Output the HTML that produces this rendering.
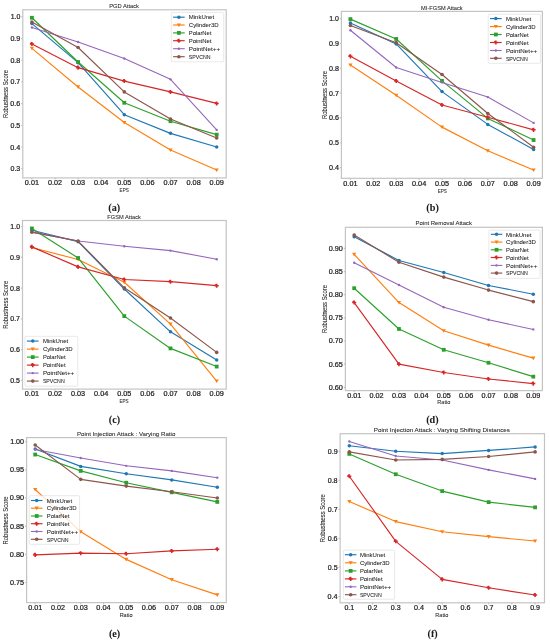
<!DOCTYPE html>
<html><head><meta charset="utf-8"><title>Robustness charts</title>
<style>html,body{margin:0;padding:0;background:#fff;width:550px;height:641px;overflow:hidden}svg{display:block;will-change:transform}</style>
</head><body>
<svg width="550" height="641" viewBox="0 0 550 641" font-family="'Liberation Sans', sans-serif">
<defs><clipPath id="clipa"><rect x="22.8" y="9.8" width="203.4" height="168.1"/></clipPath>
<clipPath id="clipb"><rect x="341.4" y="11.4" width="201" height="166.9"/></clipPath>
<clipPath id="clipc"><rect x="22.5" y="220.5" width="203.7" height="168.6"/></clipPath>
<clipPath id="clipd"><rect x="345.4" y="227.3" width="197" height="163.3"/></clipPath>
<clipPath id="clipe"><rect x="26.6" y="437.6" width="199.7" height="165"/></clipPath>
<clipPath id="clipf"><rect x="340.1" y="433.7" width="204.4" height="169.1"/></clipPath></defs>
<rect width="550" height="641" fill="#fff"/>
<g clip-path="url(#clipa)">
<polyline points="31.9,23.62 78.1,62.66 124.3,114.7 170.5,133.35 216.7,147.01" fill="none" stroke="#1f77b4" stroke-width="1.15" stroke-linejoin="round"/>
<circle cx="31.9" cy="23.62" r="1.75" fill="#1f77b4"/>
<circle cx="78.1" cy="62.66" r="1.75" fill="#1f77b4"/>
<circle cx="124.3" cy="114.7" r="1.75" fill="#1f77b4"/>
<circle cx="170.5" cy="133.35" r="1.75" fill="#1f77b4"/>
<circle cx="216.7" cy="147.01" r="1.75" fill="#1f77b4"/>
<polyline points="31.9,48.34 78.1,86.94 124.3,122.51 170.5,150.05 216.7,170" fill="none" stroke="#ff7f0e" stroke-width="1.15" stroke-linejoin="round"/>
<polygon points="29.8,46.77 34,46.77 31.9,50.34" fill="#ff7f0e"/>
<polygon points="76,85.37 80.2,85.37 78.1,88.94" fill="#ff7f0e"/>
<polygon points="122.2,120.93 126.4,120.93 124.3,124.5" fill="#ff7f0e"/>
<polygon points="168.4,148.48 172.6,148.48 170.5,152.05" fill="#ff7f0e"/>
<polygon points="214.6,168.43 218.8,168.43 216.7,172" fill="#ff7f0e"/>
<polyline points="31.9,17.77 78.1,62.01 124.3,102.78 170.5,121.21 216.7,134.65" fill="none" stroke="#2ca02c" stroke-width="1.15" stroke-linejoin="round"/>
<rect x="30.01" y="15.88" width="3.78" height="3.78" fill="#2ca02c"/>
<rect x="76.21" y="60.12" width="3.78" height="3.78" fill="#2ca02c"/>
<rect x="122.41" y="100.89" width="3.78" height="3.78" fill="#2ca02c"/>
<rect x="168.61" y="119.32" width="3.78" height="3.78" fill="#2ca02c"/>
<rect x="214.81" y="132.76" width="3.78" height="3.78" fill="#2ca02c"/>
<polyline points="31.9,44.01 78.1,67.64 124.3,81.09 170.5,91.93 216.7,103.43" fill="none" stroke="#d62728" stroke-width="1.15" stroke-linejoin="round"/>
<path d="M31.13 41.98h1.54v1.26h1.26v1.54h-1.26v1.26h-1.54v-1.26h-1.26v-1.54z" fill="#d62728"/>
<path d="M77.33 65.61h1.54v1.26h1.26v1.54h-1.26v1.26h-1.54v-1.26h-1.26v-1.54z" fill="#d62728"/>
<path d="M123.53 79.06h1.54v1.26h1.26v1.54h-1.26v1.26h-1.54v-1.26h-1.26v-1.54z" fill="#d62728"/>
<path d="M169.73 89.9h1.54v1.26h1.26v1.54h-1.26v1.26h-1.54v-1.26h-1.26v-1.54z" fill="#d62728"/>
<path d="M215.93 101.4h1.54v1.26h1.26v1.54h-1.26v1.26h-1.54v-1.26h-1.26v-1.54z" fill="#d62728"/>
<polyline points="31.9,27.53 78.1,42.06 124.3,58.54 170.5,79.35 216.7,129.88" fill="none" stroke="#9467bd" stroke-width="1.09" stroke-linejoin="round"/>
<circle cx="31.9" cy="27.53" r="1.19" fill="#9467bd"/>
<circle cx="78.1" cy="42.06" r="1.19" fill="#9467bd"/>
<circle cx="124.3" cy="58.54" r="1.19" fill="#9467bd"/>
<circle cx="170.5" cy="79.35" r="1.19" fill="#9467bd"/>
<circle cx="216.7" cy="129.88" r="1.19" fill="#9467bd"/>
<polyline points="31.9,22.1 78.1,47.48 124.3,91.93 170.5,119.04 216.7,137.91" fill="none" stroke="#8c564b" stroke-width="1.15" stroke-linejoin="round"/>
<circle cx="31.9" cy="22.1" r="1.82" fill="#8c564b"/>
<circle cx="78.1" cy="47.48" r="1.82" fill="#8c564b"/>
<circle cx="124.3" cy="91.93" r="1.82" fill="#8c564b"/>
<circle cx="170.5" cy="119.04" r="1.82" fill="#8c564b"/>
<circle cx="216.7" cy="137.91" r="1.82" fill="#8c564b"/>
</g>
<rect x="22.8" y="9.8" width="203.4" height="168.1" fill="none" stroke="#c4c4c4" stroke-width="1.2"/>
<text x="31.9" y="185.13" font-size="6.9" text-anchor="middle" fill="#1e1e1e" stroke="#1e1e1e" stroke-width="0.22" textLength="14.06" lengthAdjust="spacingAndGlyphs">0.01</text>
<text x="55" y="185.13" font-size="6.9" text-anchor="middle" fill="#1e1e1e" stroke="#1e1e1e" stroke-width="0.22" textLength="14.01" lengthAdjust="spacingAndGlyphs">0.02</text>
<text x="78.1" y="185.13" font-size="6.9" text-anchor="middle" fill="#1e1e1e" stroke="#1e1e1e" stroke-width="0.22" textLength="14.15" lengthAdjust="spacingAndGlyphs">0.03</text>
<text x="101.2" y="185.13" font-size="6.9" text-anchor="middle" fill="#1e1e1e" stroke="#1e1e1e" stroke-width="0.22" textLength="14.31" lengthAdjust="spacingAndGlyphs">0.04</text>
<text x="124.3" y="185.13" font-size="6.9" text-anchor="middle" fill="#1e1e1e" stroke="#1e1e1e" stroke-width="0.22" textLength="14.1" lengthAdjust="spacingAndGlyphs">0.05</text>
<text x="147.4" y="185.13" font-size="6.9" text-anchor="middle" fill="#1e1e1e" stroke="#1e1e1e" stroke-width="0.22" textLength="14.26" lengthAdjust="spacingAndGlyphs">0.06</text>
<text x="170.5" y="185.13" font-size="6.9" text-anchor="middle" fill="#1e1e1e" stroke="#1e1e1e" stroke-width="0.22" textLength="14.11" lengthAdjust="spacingAndGlyphs">0.07</text>
<text x="193.6" y="185.13" font-size="6.9" text-anchor="middle" fill="#1e1e1e" stroke="#1e1e1e" stroke-width="0.22" textLength="14.23" lengthAdjust="spacingAndGlyphs">0.08</text>
<text x="216.7" y="185.13" font-size="6.9" text-anchor="middle" fill="#1e1e1e" stroke="#1e1e1e" stroke-width="0.22" textLength="14.21" lengthAdjust="spacingAndGlyphs">0.09</text>
<text x="20.3" y="171.18" font-size="6.9" text-anchor="end" fill="#1e1e1e" stroke="#1e1e1e" stroke-width="0.22" textLength="9.82" lengthAdjust="spacingAndGlyphs">0.3</text>
<text x="20.3" y="149.5" font-size="6.9" text-anchor="end" fill="#1e1e1e" stroke="#1e1e1e" stroke-width="0.22" textLength="9.98" lengthAdjust="spacingAndGlyphs">0.4</text>
<text x="20.3" y="127.81" font-size="6.9" text-anchor="end" fill="#1e1e1e" stroke="#1e1e1e" stroke-width="0.22" textLength="9.77" lengthAdjust="spacingAndGlyphs">0.5</text>
<text x="20.3" y="106.13" font-size="6.9" text-anchor="end" fill="#1e1e1e" stroke="#1e1e1e" stroke-width="0.22" textLength="9.94" lengthAdjust="spacingAndGlyphs">0.6</text>
<text x="20.3" y="84.44" font-size="6.9" text-anchor="end" fill="#1e1e1e" stroke="#1e1e1e" stroke-width="0.22" textLength="9.78" lengthAdjust="spacingAndGlyphs">0.7</text>
<text x="20.3" y="62.76" font-size="6.9" text-anchor="end" fill="#1e1e1e" stroke="#1e1e1e" stroke-width="0.22" textLength="9.9" lengthAdjust="spacingAndGlyphs">0.8</text>
<text x="20.3" y="41.07" font-size="6.9" text-anchor="end" fill="#1e1e1e" stroke="#1e1e1e" stroke-width="0.22" textLength="9.89" lengthAdjust="spacingAndGlyphs">0.9</text>
<text x="20.3" y="19.38" font-size="6.9" text-anchor="end" fill="#1e1e1e" stroke="#1e1e1e" stroke-width="0.22" textLength="9.62" lengthAdjust="spacingAndGlyphs">1.0</text>
<path d="M31.9 177.9v1.6 M55 177.9v1.6 M78.1 177.9v1.6 M101.2 177.9v1.6 M124.3 177.9v1.6 M147.4 177.9v1.6 M170.5 177.9v1.6 M193.6 177.9v1.6 M216.7 177.9v1.6 M22.8 168.7h-1.6 M22.8 147.01h-1.6 M22.8 125.33h-1.6 M22.8 103.64h-1.6 M22.8 81.96h-1.6 M22.8 60.27h-1.6 M22.8 38.59h-1.6 M22.8 16.9h-1.6" stroke="#c4c4c4" stroke-width="1.2"/>
<text x="124.1" y="8.41" font-size="6.15" text-anchor="middle" fill="#1e1e1e" stroke="#1e1e1e" stroke-width="0.06" textLength="29.73" lengthAdjust="spacingAndGlyphs">PGD Attack</text>
<text x="124.2" y="191.91" font-size="6.15" text-anchor="middle" fill="#1e1e1e" stroke="#1e1e1e" stroke-width="0.06" textLength="9.18" lengthAdjust="spacingAndGlyphs">EPS</text>
<text x="0" y="0" font-size="6.4" text-anchor="middle" fill="#1e1e1e" stroke="#1e1e1e" stroke-width="0.06" textLength="48" lengthAdjust="spacingAndGlyphs" transform="translate(5.5 94) rotate(-90) translate(0 2.3)">Robustness Score</text>
<rect x="171.3" y="12.4" width="52.4" height="49.4" rx="1.2" fill="#fff" fill-opacity="0.8" stroke="#dadada" stroke-width="0.6"/>
<path d="M173.1 17.2H184.7" stroke="#1f77b4" stroke-width="1.15"/>
<circle cx="178.9" cy="17.2" r="1.75" fill="#1f77b4"/>
<text x="188.8" y="19.41" font-size="6.15" text-anchor="start" fill="#1e1e1e" stroke="#1e1e1e" stroke-width="0.06" textLength="25.3" lengthAdjust="spacingAndGlyphs">MinkUnet</text>
<path d="M173.1 25H184.7" stroke="#ff7f0e" stroke-width="1.15"/>
<polygon points="176.8,23.43 181,23.43 178.9,27" fill="#ff7f0e"/>
<text x="188.8" y="27.21" font-size="6.15" text-anchor="start" fill="#1e1e1e" stroke="#1e1e1e" stroke-width="0.06" textLength="29.8" lengthAdjust="spacingAndGlyphs">Cylinder3D</text>
<path d="M173.1 32.9H184.7" stroke="#2ca02c" stroke-width="1.15"/>
<rect x="177.01" y="31.01" width="3.78" height="3.78" fill="#2ca02c"/>
<text x="188.8" y="35.11" font-size="6.15" text-anchor="start" fill="#1e1e1e" stroke="#1e1e1e" stroke-width="0.06" textLength="22.64" lengthAdjust="spacingAndGlyphs">PolarNet</text>
<path d="M173.1 40.7H184.7" stroke="#d62728" stroke-width="1.15"/>
<path d="M178.13 38.67h1.54v1.26h1.26v1.54h-1.26v1.26h-1.54v-1.26h-1.26v-1.54z" fill="#d62728"/>
<text x="188.8" y="42.91" font-size="6.15" text-anchor="start" fill="#1e1e1e" stroke="#1e1e1e" stroke-width="0.06" textLength="22.65" lengthAdjust="spacingAndGlyphs">PointNet</text>
<path d="M173.1 48.7H184.7" stroke="#9467bd" stroke-width="1.09"/>
<circle cx="178.9" cy="48.7" r="1.19" fill="#9467bd"/>
<text x="188.8" y="50.91" font-size="6.15" text-anchor="start" fill="#1e1e1e" stroke="#1e1e1e" stroke-width="0.06" textLength="31.3" lengthAdjust="spacingAndGlyphs">PointNet++</text>
<path d="M173.1 56.7H184.7" stroke="#8c564b" stroke-width="1.15"/>
<circle cx="178.9" cy="56.7" r="1.82" fill="#8c564b"/>
<text x="188.8" y="58.91" font-size="6.15" text-anchor="start" fill="#1e1e1e" stroke="#1e1e1e" stroke-width="0.06" textLength="21.76" lengthAdjust="spacingAndGlyphs">SPVCNN</text>
<text x="114.3" y="210.56" font-size="10.2" font-family="Liberation Serif, serif" font-weight="bold" text-anchor="middle" fill="#1a1a1a" stroke="#1a1a1a" stroke-width="0.05">(a)</text>
<g clip-path="url(#clipb)">
<polyline points="350.4,23.07 396.2,43.93 442,91.61 487.8,124.39 533.6,149.47" fill="none" stroke="#1f77b4" stroke-width="1.15" stroke-linejoin="round"/>
<circle cx="350.4" cy="23.07" r="1.75" fill="#1f77b4"/>
<circle cx="396.2" cy="43.93" r="1.75" fill="#1f77b4"/>
<circle cx="442" cy="91.61" r="1.75" fill="#1f77b4"/>
<circle cx="487.8" cy="124.39" r="1.75" fill="#1f77b4"/>
<circle cx="533.6" cy="149.47" r="1.75" fill="#1f77b4"/>
<polyline points="350.4,65.04 396.2,95.34 442,127.12 487.8,150.71 533.6,170.08" fill="none" stroke="#ff7f0e" stroke-width="1.15" stroke-linejoin="round"/>
<polygon points="348.3,63.46 352.5,63.46 350.4,67.03" fill="#ff7f0e"/>
<polygon points="394.1,93.76 398.3,93.76 396.2,97.33" fill="#ff7f0e"/>
<polygon points="439.9,125.55 444.1,125.55 442,129.12" fill="#ff7f0e"/>
<polygon points="485.7,149.14 489.9,149.14 487.8,152.71" fill="#ff7f0e"/>
<polygon points="531.5,168.51 535.7,168.51 533.6,172.08" fill="#ff7f0e"/>
<polyline points="350.4,19.1 396.2,38.96 442,80.93 487.8,118.43 533.6,140.03" fill="none" stroke="#2ca02c" stroke-width="1.15" stroke-linejoin="round"/>
<rect x="348.51" y="17.21" width="3.78" height="3.78" fill="#2ca02c"/>
<rect x="394.31" y="37.07" width="3.78" height="3.78" fill="#2ca02c"/>
<rect x="440.11" y="79.04" width="3.78" height="3.78" fill="#2ca02c"/>
<rect x="485.91" y="116.54" width="3.78" height="3.78" fill="#2ca02c"/>
<rect x="531.71" y="138.15" width="3.78" height="3.78" fill="#2ca02c"/>
<polyline points="350.4,56.35 396.2,80.93 442,105.02 487.8,117.19 533.6,129.85" fill="none" stroke="#d62728" stroke-width="1.15" stroke-linejoin="round"/>
<path d="M349.63 54.32h1.54v1.26h1.26v1.54h-1.26v1.26h-1.54v-1.26h-1.26v-1.54z" fill="#d62728"/>
<path d="M395.43 78.9h1.54v1.26h1.26v1.54h-1.26v1.26h-1.54v-1.26h-1.26v-1.54z" fill="#d62728"/>
<path d="M441.23 102.99h1.54v1.26h1.26v1.54h-1.26v1.26h-1.54v-1.26h-1.26v-1.54z" fill="#d62728"/>
<path d="M487.03 115.16h1.54v1.26h1.26v1.54h-1.26v1.26h-1.54v-1.26h-1.26v-1.54z" fill="#d62728"/>
<path d="M532.83 127.82h1.54v1.26h1.26v1.54h-1.26v1.26h-1.54v-1.26h-1.26v-1.54z" fill="#d62728"/>
<polyline points="350.4,30.27 396.2,67.52 442,82.42 487.8,97.07 533.6,122.9" fill="none" stroke="#9467bd" stroke-width="1.09" stroke-linejoin="round"/>
<circle cx="350.4" cy="30.27" r="1.19" fill="#9467bd"/>
<circle cx="396.2" cy="67.52" r="1.19" fill="#9467bd"/>
<circle cx="442" cy="82.42" r="1.19" fill="#9467bd"/>
<circle cx="487.8" cy="97.07" r="1.19" fill="#9467bd"/>
<circle cx="533.6" cy="122.9" r="1.19" fill="#9467bd"/>
<polyline points="350.4,25.55 396.2,42.69 442,74.47 487.8,113.46 533.6,147.24" fill="none" stroke="#8c564b" stroke-width="1.15" stroke-linejoin="round"/>
<circle cx="350.4" cy="25.55" r="1.82" fill="#8c564b"/>
<circle cx="396.2" cy="42.69" r="1.82" fill="#8c564b"/>
<circle cx="442" cy="74.47" r="1.82" fill="#8c564b"/>
<circle cx="487.8" cy="113.46" r="1.82" fill="#8c564b"/>
<circle cx="533.6" cy="147.24" r="1.82" fill="#8c564b"/>
</g>
<rect x="341.4" y="11.4" width="201" height="166.9" fill="none" stroke="#c4c4c4" stroke-width="1.2"/>
<text x="350.4" y="185.53" font-size="6.9" text-anchor="middle" fill="#1e1e1e" stroke="#1e1e1e" stroke-width="0.22" textLength="14.06" lengthAdjust="spacingAndGlyphs">0.01</text>
<text x="373.3" y="185.53" font-size="6.9" text-anchor="middle" fill="#1e1e1e" stroke="#1e1e1e" stroke-width="0.22" textLength="14.01" lengthAdjust="spacingAndGlyphs">0.02</text>
<text x="396.2" y="185.53" font-size="6.9" text-anchor="middle" fill="#1e1e1e" stroke="#1e1e1e" stroke-width="0.22" textLength="14.15" lengthAdjust="spacingAndGlyphs">0.03</text>
<text x="419.1" y="185.53" font-size="6.9" text-anchor="middle" fill="#1e1e1e" stroke="#1e1e1e" stroke-width="0.22" textLength="14.31" lengthAdjust="spacingAndGlyphs">0.04</text>
<text x="442" y="185.53" font-size="6.9" text-anchor="middle" fill="#1e1e1e" stroke="#1e1e1e" stroke-width="0.22" textLength="14.1" lengthAdjust="spacingAndGlyphs">0.05</text>
<text x="464.9" y="185.53" font-size="6.9" text-anchor="middle" fill="#1e1e1e" stroke="#1e1e1e" stroke-width="0.22" textLength="14.26" lengthAdjust="spacingAndGlyphs">0.06</text>
<text x="487.8" y="185.53" font-size="6.9" text-anchor="middle" fill="#1e1e1e" stroke="#1e1e1e" stroke-width="0.22" textLength="14.11" lengthAdjust="spacingAndGlyphs">0.07</text>
<text x="510.7" y="185.53" font-size="6.9" text-anchor="middle" fill="#1e1e1e" stroke="#1e1e1e" stroke-width="0.22" textLength="14.23" lengthAdjust="spacingAndGlyphs">0.08</text>
<text x="533.6" y="185.53" font-size="6.9" text-anchor="middle" fill="#1e1e1e" stroke="#1e1e1e" stroke-width="0.22" textLength="14.21" lengthAdjust="spacingAndGlyphs">0.09</text>
<text x="338.9" y="170.08" font-size="6.9" text-anchor="end" fill="#1e1e1e" stroke="#1e1e1e" stroke-width="0.22" textLength="9.98" lengthAdjust="spacingAndGlyphs">0.4</text>
<text x="338.9" y="145.25" font-size="6.9" text-anchor="end" fill="#1e1e1e" stroke="#1e1e1e" stroke-width="0.22" textLength="9.77" lengthAdjust="spacingAndGlyphs">0.5</text>
<text x="338.9" y="120.42" font-size="6.9" text-anchor="end" fill="#1e1e1e" stroke="#1e1e1e" stroke-width="0.22" textLength="9.94" lengthAdjust="spacingAndGlyphs">0.6</text>
<text x="338.9" y="95.58" font-size="6.9" text-anchor="end" fill="#1e1e1e" stroke="#1e1e1e" stroke-width="0.22" textLength="9.78" lengthAdjust="spacingAndGlyphs">0.7</text>
<text x="338.9" y="70.75" font-size="6.9" text-anchor="end" fill="#1e1e1e" stroke="#1e1e1e" stroke-width="0.22" textLength="9.9" lengthAdjust="spacingAndGlyphs">0.8</text>
<text x="338.9" y="45.92" font-size="6.9" text-anchor="end" fill="#1e1e1e" stroke="#1e1e1e" stroke-width="0.22" textLength="9.89" lengthAdjust="spacingAndGlyphs">0.9</text>
<text x="338.9" y="21.08" font-size="6.9" text-anchor="end" fill="#1e1e1e" stroke="#1e1e1e" stroke-width="0.22" textLength="9.62" lengthAdjust="spacingAndGlyphs">1.0</text>
<path d="M350.4 178.3v1.6 M373.3 178.3v1.6 M396.2 178.3v1.6 M419.1 178.3v1.6 M442 178.3v1.6 M464.9 178.3v1.6 M487.8 178.3v1.6 M510.7 178.3v1.6 M533.6 178.3v1.6 M341.4 167.6h-1.6 M341.4 142.77h-1.6 M341.4 117.93h-1.6 M341.4 93.1h-1.6 M341.4 68.27h-1.6 M341.4 43.43h-1.6 M341.4 18.6h-1.6" stroke="#c4c4c4" stroke-width="1.2"/>
<text x="441.9" y="10.06" font-size="6.15" text-anchor="middle" fill="#1e1e1e" stroke="#1e1e1e" stroke-width="0.06" textLength="41.6" lengthAdjust="spacingAndGlyphs">MI-FGSM Attack</text>
<text x="442.3" y="192.61" font-size="6.15" text-anchor="middle" fill="#1e1e1e" stroke="#1e1e1e" stroke-width="0.06" textLength="9.18" lengthAdjust="spacingAndGlyphs">EPS</text>
<text x="0" y="0" font-size="6.4" text-anchor="middle" fill="#1e1e1e" stroke="#1e1e1e" stroke-width="0.06" textLength="48" lengthAdjust="spacingAndGlyphs" transform="translate(324.2 95) rotate(-90) translate(0 2.3)">Robustness Score</text>
<rect x="488.2" y="14.3" width="52.3" height="49" rx="1.2" fill="#fff" fill-opacity="0.8" stroke="#dadada" stroke-width="0.6"/>
<path d="M490 18.6H501.7" stroke="#1f77b4" stroke-width="1.15"/>
<circle cx="495.85" cy="18.6" r="1.75" fill="#1f77b4"/>
<text x="505.9" y="20.81" font-size="6.15" text-anchor="start" fill="#1e1e1e" stroke="#1e1e1e" stroke-width="0.06" textLength="25.3" lengthAdjust="spacingAndGlyphs">MinkUnet</text>
<path d="M490 26.6H501.7" stroke="#ff7f0e" stroke-width="1.15"/>
<polygon points="493.75,25.03 497.95,25.03 495.85,28.6" fill="#ff7f0e"/>
<text x="505.9" y="28.81" font-size="6.15" text-anchor="start" fill="#1e1e1e" stroke="#1e1e1e" stroke-width="0.06" textLength="29.8" lengthAdjust="spacingAndGlyphs">Cylinder3D</text>
<path d="M490 34.5H501.7" stroke="#2ca02c" stroke-width="1.15"/>
<rect x="493.96" y="32.61" width="3.78" height="3.78" fill="#2ca02c"/>
<text x="505.9" y="36.71" font-size="6.15" text-anchor="start" fill="#1e1e1e" stroke="#1e1e1e" stroke-width="0.06" textLength="22.64" lengthAdjust="spacingAndGlyphs">PolarNet</text>
<path d="M490 42.5H501.7" stroke="#d62728" stroke-width="1.15"/>
<path d="M495.08 40.47h1.54v1.26h1.26v1.54h-1.26v1.26h-1.54v-1.26h-1.26v-1.54z" fill="#d62728"/>
<text x="505.9" y="44.71" font-size="6.15" text-anchor="start" fill="#1e1e1e" stroke="#1e1e1e" stroke-width="0.06" textLength="22.65" lengthAdjust="spacingAndGlyphs">PointNet</text>
<path d="M490 50.5H501.7" stroke="#9467bd" stroke-width="1.09"/>
<circle cx="495.85" cy="50.5" r="1.19" fill="#9467bd"/>
<text x="505.9" y="52.71" font-size="6.15" text-anchor="start" fill="#1e1e1e" stroke="#1e1e1e" stroke-width="0.06" textLength="31.3" lengthAdjust="spacingAndGlyphs">PointNet++</text>
<path d="M490 58.3H501.7" stroke="#8c564b" stroke-width="1.15"/>
<circle cx="495.85" cy="58.3" r="1.82" fill="#8c564b"/>
<text x="505.9" y="60.51" font-size="6.15" text-anchor="start" fill="#1e1e1e" stroke="#1e1e1e" stroke-width="0.06" textLength="21.76" lengthAdjust="spacingAndGlyphs">SPVCNN</text>
<text x="432.6" y="210.66" font-size="10.2" font-family="Liberation Serif, serif" font-weight="bold" text-anchor="middle" fill="#1a1a1a" stroke="#1a1a1a" stroke-width="0.05">(b)</text>
<g clip-path="url(#clipc)">
<polyline points="31.9,230.29 78.1,241.67 124.3,289.04 170.5,331.8 216.7,360.1" fill="none" stroke="#1f77b4" stroke-width="1.15" stroke-linejoin="round"/>
<circle cx="31.9" cy="230.29" r="1.75" fill="#1f77b4"/>
<circle cx="78.1" cy="241.67" r="1.75" fill="#1f77b4"/>
<circle cx="124.3" cy="289.04" r="1.75" fill="#1f77b4"/>
<circle cx="170.5" cy="331.8" r="1.75" fill="#1f77b4"/>
<circle cx="216.7" cy="360.1" r="1.75" fill="#1f77b4"/>
<polyline points="31.9,247.52 78.1,259.51 124.3,282.28 170.5,324.11 216.7,381.02" fill="none" stroke="#ff7f0e" stroke-width="1.15" stroke-linejoin="round"/>
<polygon points="29.8,245.94 34,245.94 31.9,249.51" fill="#ff7f0e"/>
<polygon points="76,257.94 80.2,257.94 78.1,261.51" fill="#ff7f0e"/>
<polygon points="122.2,280.7 126.4,280.7 124.3,284.27" fill="#ff7f0e"/>
<polygon points="168.4,322.53 172.6,322.53 170.5,326.1" fill="#ff7f0e"/>
<polygon points="214.6,379.44 218.8,379.44 216.7,383.01" fill="#ff7f0e"/>
<polyline points="31.9,228.45 78.1,257.98 124.3,316.11 170.5,348.41 216.7,366.56" fill="none" stroke="#2ca02c" stroke-width="1.15" stroke-linejoin="round"/>
<rect x="30.01" y="226.56" width="3.78" height="3.78" fill="#2ca02c"/>
<rect x="76.21" y="256.09" width="3.78" height="3.78" fill="#2ca02c"/>
<rect x="122.41" y="314.22" width="3.78" height="3.78" fill="#2ca02c"/>
<rect x="168.61" y="346.52" width="3.78" height="3.78" fill="#2ca02c"/>
<rect x="214.81" y="364.67" width="3.78" height="3.78" fill="#2ca02c"/>
<polyline points="31.9,246.9 78.1,266.9 124.3,279.51 170.5,281.66 216.7,285.66" fill="none" stroke="#d62728" stroke-width="1.15" stroke-linejoin="round"/>
<path d="M31.13 244.87h1.54v1.26h1.26v1.54h-1.26v1.26h-1.54v-1.26h-1.26v-1.54z" fill="#d62728"/>
<path d="M77.33 264.87h1.54v1.26h1.26v1.54h-1.26v1.26h-1.54v-1.26h-1.26v-1.54z" fill="#d62728"/>
<path d="M123.53 277.48h1.54v1.26h1.26v1.54h-1.26v1.26h-1.54v-1.26h-1.26v-1.54z" fill="#d62728"/>
<path d="M169.73 279.63h1.54v1.26h1.26v1.54h-1.26v1.26h-1.54v-1.26h-1.26v-1.54z" fill="#d62728"/>
<path d="M215.93 283.63h1.54v1.26h1.26v1.54h-1.26v1.26h-1.54v-1.26h-1.26v-1.54z" fill="#d62728"/>
<polyline points="31.9,232.14 78.1,241.06 124.3,246.29 170.5,250.59 216.7,259.21" fill="none" stroke="#9467bd" stroke-width="1.09" stroke-linejoin="round"/>
<circle cx="31.9" cy="232.14" r="1.19" fill="#9467bd"/>
<circle cx="78.1" cy="241.06" r="1.19" fill="#9467bd"/>
<circle cx="124.3" cy="246.29" r="1.19" fill="#9467bd"/>
<circle cx="170.5" cy="250.59" r="1.19" fill="#9467bd"/>
<circle cx="216.7" cy="259.21" r="1.19" fill="#9467bd"/>
<polyline points="31.9,232.14 78.1,241.06 124.3,287.81 170.5,317.96 216.7,352.41" fill="none" stroke="#8c564b" stroke-width="1.15" stroke-linejoin="round"/>
<circle cx="31.9" cy="232.14" r="1.82" fill="#8c564b"/>
<circle cx="78.1" cy="241.06" r="1.82" fill="#8c564b"/>
<circle cx="124.3" cy="287.81" r="1.82" fill="#8c564b"/>
<circle cx="170.5" cy="317.96" r="1.82" fill="#8c564b"/>
<circle cx="216.7" cy="352.41" r="1.82" fill="#8c564b"/>
</g>
<rect x="22.5" y="220.5" width="203.7" height="168.6" fill="none" stroke="#c4c4c4" stroke-width="1.2"/>
<text x="31.9" y="396.33" font-size="6.9" text-anchor="middle" fill="#1e1e1e" stroke="#1e1e1e" stroke-width="0.22" textLength="14.06" lengthAdjust="spacingAndGlyphs">0.01</text>
<text x="55" y="396.33" font-size="6.9" text-anchor="middle" fill="#1e1e1e" stroke="#1e1e1e" stroke-width="0.22" textLength="14.01" lengthAdjust="spacingAndGlyphs">0.02</text>
<text x="78.1" y="396.33" font-size="6.9" text-anchor="middle" fill="#1e1e1e" stroke="#1e1e1e" stroke-width="0.22" textLength="14.15" lengthAdjust="spacingAndGlyphs">0.03</text>
<text x="101.2" y="396.33" font-size="6.9" text-anchor="middle" fill="#1e1e1e" stroke="#1e1e1e" stroke-width="0.22" textLength="14.31" lengthAdjust="spacingAndGlyphs">0.04</text>
<text x="124.3" y="396.33" font-size="6.9" text-anchor="middle" fill="#1e1e1e" stroke="#1e1e1e" stroke-width="0.22" textLength="14.1" lengthAdjust="spacingAndGlyphs">0.05</text>
<text x="147.4" y="396.33" font-size="6.9" text-anchor="middle" fill="#1e1e1e" stroke="#1e1e1e" stroke-width="0.22" textLength="14.26" lengthAdjust="spacingAndGlyphs">0.06</text>
<text x="170.5" y="396.33" font-size="6.9" text-anchor="middle" fill="#1e1e1e" stroke="#1e1e1e" stroke-width="0.22" textLength="14.11" lengthAdjust="spacingAndGlyphs">0.07</text>
<text x="193.6" y="396.33" font-size="6.9" text-anchor="middle" fill="#1e1e1e" stroke="#1e1e1e" stroke-width="0.22" textLength="14.23" lengthAdjust="spacingAndGlyphs">0.08</text>
<text x="216.7" y="396.33" font-size="6.9" text-anchor="middle" fill="#1e1e1e" stroke="#1e1e1e" stroke-width="0.22" textLength="14.21" lengthAdjust="spacingAndGlyphs">0.09</text>
<text x="20" y="382.88" font-size="6.9" text-anchor="end" fill="#1e1e1e" stroke="#1e1e1e" stroke-width="0.22" textLength="9.77" lengthAdjust="spacingAndGlyphs">0.5</text>
<text x="20" y="352.12" font-size="6.9" text-anchor="end" fill="#1e1e1e" stroke="#1e1e1e" stroke-width="0.22" textLength="9.94" lengthAdjust="spacingAndGlyphs">0.6</text>
<text x="20" y="321.36" font-size="6.9" text-anchor="end" fill="#1e1e1e" stroke="#1e1e1e" stroke-width="0.22" textLength="9.78" lengthAdjust="spacingAndGlyphs">0.7</text>
<text x="20" y="290.6" font-size="6.9" text-anchor="end" fill="#1e1e1e" stroke="#1e1e1e" stroke-width="0.22" textLength="9.9" lengthAdjust="spacingAndGlyphs">0.8</text>
<text x="20" y="259.84" font-size="6.9" text-anchor="end" fill="#1e1e1e" stroke="#1e1e1e" stroke-width="0.22" textLength="9.89" lengthAdjust="spacingAndGlyphs">0.9</text>
<text x="20" y="229.08" font-size="6.9" text-anchor="end" fill="#1e1e1e" stroke="#1e1e1e" stroke-width="0.22" textLength="9.62" lengthAdjust="spacingAndGlyphs">1.0</text>
<path d="M31.9 389.1v1.6 M55 389.1v1.6 M78.1 389.1v1.6 M101.2 389.1v1.6 M124.3 389.1v1.6 M147.4 389.1v1.6 M170.5 389.1v1.6 M193.6 389.1v1.6 M216.7 389.1v1.6 M22.5 380.4h-1.6 M22.5 349.64h-1.6 M22.5 318.88h-1.6 M22.5 288.12h-1.6 M22.5 257.36h-1.6 M22.5 226.6h-1.6" stroke="#c4c4c4" stroke-width="1.2"/>
<text x="124.1" y="219.21" font-size="6.15" text-anchor="middle" fill="#1e1e1e" stroke="#1e1e1e" stroke-width="0.06" textLength="33.48" lengthAdjust="spacingAndGlyphs">FGSM Attack</text>
<text x="124.1" y="403.21" font-size="6.15" text-anchor="middle" fill="#1e1e1e" stroke="#1e1e1e" stroke-width="0.06" textLength="9.18" lengthAdjust="spacingAndGlyphs">EPS</text>
<text x="0" y="0" font-size="6.4" text-anchor="middle" fill="#1e1e1e" stroke="#1e1e1e" stroke-width="0.06" textLength="48" lengthAdjust="spacingAndGlyphs" transform="translate(5.2 304.7) rotate(-90) translate(0 2.3)">Robustness Score</text>
<rect x="24.9" y="336.3" width="52.9" height="49.9" rx="1.2" fill="#fff" fill-opacity="0.8" stroke="#dadada" stroke-width="0.6"/>
<path d="M26.9 341.1H38.6" stroke="#1f77b4" stroke-width="1.15"/>
<circle cx="32.75" cy="341.1" r="1.75" fill="#1f77b4"/>
<text x="42.9" y="343.31" font-size="6.15" text-anchor="start" fill="#1e1e1e" stroke="#1e1e1e" stroke-width="0.06" textLength="25.3" lengthAdjust="spacingAndGlyphs">MinkUnet</text>
<path d="M26.9 349.1H38.6" stroke="#ff7f0e" stroke-width="1.15"/>
<polygon points="30.65,347.53 34.85,347.53 32.75,351.1" fill="#ff7f0e"/>
<text x="42.9" y="351.31" font-size="6.15" text-anchor="start" fill="#1e1e1e" stroke="#1e1e1e" stroke-width="0.06" textLength="29.8" lengthAdjust="spacingAndGlyphs">Cylinder3D</text>
<path d="M26.9 357.1H38.6" stroke="#2ca02c" stroke-width="1.15"/>
<rect x="30.86" y="355.21" width="3.78" height="3.78" fill="#2ca02c"/>
<text x="42.9" y="359.31" font-size="6.15" text-anchor="start" fill="#1e1e1e" stroke="#1e1e1e" stroke-width="0.06" textLength="22.64" lengthAdjust="spacingAndGlyphs">PolarNet</text>
<path d="M26.9 365.1H38.6" stroke="#d62728" stroke-width="1.15"/>
<path d="M31.98 363.07h1.54v1.26h1.26v1.54h-1.26v1.26h-1.54v-1.26h-1.26v-1.54z" fill="#d62728"/>
<text x="42.9" y="367.31" font-size="6.15" text-anchor="start" fill="#1e1e1e" stroke="#1e1e1e" stroke-width="0.06" textLength="22.65" lengthAdjust="spacingAndGlyphs">PointNet</text>
<path d="M26.9 373.1H38.6" stroke="#9467bd" stroke-width="1.09"/>
<circle cx="32.75" cy="373.1" r="1.19" fill="#9467bd"/>
<text x="42.9" y="375.31" font-size="6.15" text-anchor="start" fill="#1e1e1e" stroke="#1e1e1e" stroke-width="0.06" textLength="31.3" lengthAdjust="spacingAndGlyphs">PointNet++</text>
<path d="M26.9 381.1H38.6" stroke="#8c564b" stroke-width="1.15"/>
<circle cx="32.75" cy="381.1" r="1.82" fill="#8c564b"/>
<text x="42.9" y="383.31" font-size="6.15" text-anchor="start" fill="#1e1e1e" stroke="#1e1e1e" stroke-width="0.06" textLength="21.76" lengthAdjust="spacingAndGlyphs">SPVCNN</text>
<text x="114.4" y="423.06" font-size="10.2" font-family="Liberation Serif, serif" font-weight="bold" text-anchor="middle" fill="#1a1a1a" stroke="#1a1a1a" stroke-width="0.05">(c)</text>
<g clip-path="url(#clipd)">
<polyline points="354.2,236.82 398.97,260.44 443.75,272.48 488.52,285.44 533.3,294.24" fill="none" stroke="#1f77b4" stroke-width="1.15" stroke-linejoin="round"/>
<circle cx="354.2" cy="236.82" r="1.75" fill="#1f77b4"/>
<circle cx="398.97" cy="260.44" r="1.75" fill="#1f77b4"/>
<circle cx="443.75" cy="272.48" r="1.75" fill="#1f77b4"/>
<circle cx="488.52" cy="285.44" r="1.75" fill="#1f77b4"/>
<circle cx="533.3" cy="294.24" r="1.75" fill="#1f77b4"/>
<polyline points="354.2,254.42 398.97,302.57 443.75,330.81 488.52,345.17 533.3,358.13" fill="none" stroke="#ff7f0e" stroke-width="1.15" stroke-linejoin="round"/>
<polygon points="352.1,252.84 356.3,252.84 354.2,256.41" fill="#ff7f0e"/>
<polygon points="396.87,301 401.07,301 398.97,304.57" fill="#ff7f0e"/>
<polygon points="441.65,329.24 445.85,329.24 443.75,332.81" fill="#ff7f0e"/>
<polygon points="486.42,343.59 490.62,343.59 488.52,347.16" fill="#ff7f0e"/>
<polygon points="531.2,356.56 535.4,356.56 533.3,360.13" fill="#ff7f0e"/>
<polyline points="354.2,288.22 398.97,328.96 443.75,349.8 488.52,362.76 533.3,376.65" fill="none" stroke="#2ca02c" stroke-width="1.15" stroke-linejoin="round"/>
<rect x="352.31" y="286.33" width="3.78" height="3.78" fill="#2ca02c"/>
<rect x="397.08" y="327.07" width="3.78" height="3.78" fill="#2ca02c"/>
<rect x="441.86" y="347.91" width="3.78" height="3.78" fill="#2ca02c"/>
<rect x="486.63" y="360.87" width="3.78" height="3.78" fill="#2ca02c"/>
<rect x="531.41" y="374.76" width="3.78" height="3.78" fill="#2ca02c"/>
<polyline points="354.2,302.57 398.97,364.15 443.75,372.48 488.52,378.97 533.3,383.6" fill="none" stroke="#d62728" stroke-width="1.15" stroke-linejoin="round"/>
<path d="M353.43 300.54h1.54v1.26h1.26v1.54h-1.26v1.26h-1.54v-1.26h-1.26v-1.54z" fill="#d62728"/>
<path d="M398.2 362.12h1.54v1.26h1.26v1.54h-1.26v1.26h-1.54v-1.26h-1.26v-1.54z" fill="#d62728"/>
<path d="M442.98 370.45h1.54v1.26h1.26v1.54h-1.26v1.26h-1.54v-1.26h-1.26v-1.54z" fill="#d62728"/>
<path d="M487.75 376.94h1.54v1.26h1.26v1.54h-1.26v1.26h-1.54v-1.26h-1.26v-1.54z" fill="#d62728"/>
<path d="M532.53 381.57h1.54v1.26h1.26v1.54h-1.26v1.26h-1.54v-1.26h-1.26v-1.54z" fill="#d62728"/>
<polyline points="354.2,262.75 398.97,284.98 443.75,307.2 488.52,319.7 533.3,329.43" fill="none" stroke="#9467bd" stroke-width="1.09" stroke-linejoin="round"/>
<circle cx="354.2" cy="262.75" r="1.19" fill="#9467bd"/>
<circle cx="398.97" cy="284.98" r="1.19" fill="#9467bd"/>
<circle cx="443.75" cy="307.2" r="1.19" fill="#9467bd"/>
<circle cx="488.52" cy="319.7" r="1.19" fill="#9467bd"/>
<circle cx="533.3" cy="329.43" r="1.19" fill="#9467bd"/>
<polyline points="354.2,234.97 398.97,262.29 443.75,277.11 488.52,290.07 533.3,301.64" fill="none" stroke="#8c564b" stroke-width="1.15" stroke-linejoin="round"/>
<circle cx="354.2" cy="234.97" r="1.82" fill="#8c564b"/>
<circle cx="398.97" cy="262.29" r="1.82" fill="#8c564b"/>
<circle cx="443.75" cy="277.11" r="1.82" fill="#8c564b"/>
<circle cx="488.52" cy="290.07" r="1.82" fill="#8c564b"/>
<circle cx="533.3" cy="301.64" r="1.82" fill="#8c564b"/>
</g>
<rect x="345.4" y="227.3" width="197" height="163.3" fill="none" stroke="#c4c4c4" stroke-width="1.2"/>
<text x="354.2" y="397.83" font-size="6.9" text-anchor="middle" fill="#1e1e1e" stroke="#1e1e1e" stroke-width="0.22" textLength="14.06" lengthAdjust="spacingAndGlyphs">0.01</text>
<text x="376.59" y="397.83" font-size="6.9" text-anchor="middle" fill="#1e1e1e" stroke="#1e1e1e" stroke-width="0.22" textLength="14.01" lengthAdjust="spacingAndGlyphs">0.02</text>
<text x="398.97" y="397.83" font-size="6.9" text-anchor="middle" fill="#1e1e1e" stroke="#1e1e1e" stroke-width="0.22" textLength="14.15" lengthAdjust="spacingAndGlyphs">0.03</text>
<text x="421.36" y="397.83" font-size="6.9" text-anchor="middle" fill="#1e1e1e" stroke="#1e1e1e" stroke-width="0.22" textLength="14.31" lengthAdjust="spacingAndGlyphs">0.04</text>
<text x="443.75" y="397.83" font-size="6.9" text-anchor="middle" fill="#1e1e1e" stroke="#1e1e1e" stroke-width="0.22" textLength="14.1" lengthAdjust="spacingAndGlyphs">0.05</text>
<text x="466.14" y="397.83" font-size="6.9" text-anchor="middle" fill="#1e1e1e" stroke="#1e1e1e" stroke-width="0.22" textLength="14.26" lengthAdjust="spacingAndGlyphs">0.06</text>
<text x="488.52" y="397.83" font-size="6.9" text-anchor="middle" fill="#1e1e1e" stroke="#1e1e1e" stroke-width="0.22" textLength="14.11" lengthAdjust="spacingAndGlyphs">0.07</text>
<text x="510.91" y="397.83" font-size="6.9" text-anchor="middle" fill="#1e1e1e" stroke="#1e1e1e" stroke-width="0.22" textLength="14.23" lengthAdjust="spacingAndGlyphs">0.08</text>
<text x="533.3" y="397.83" font-size="6.9" text-anchor="middle" fill="#1e1e1e" stroke="#1e1e1e" stroke-width="0.22" textLength="14.21" lengthAdjust="spacingAndGlyphs">0.09</text>
<text x="342.9" y="389.78" font-size="6.9" text-anchor="end" fill="#1e1e1e" stroke="#1e1e1e" stroke-width="0.22" textLength="14.24" lengthAdjust="spacingAndGlyphs">0.60</text>
<text x="342.9" y="366.63" font-size="6.9" text-anchor="end" fill="#1e1e1e" stroke="#1e1e1e" stroke-width="0.22" textLength="14.1" lengthAdjust="spacingAndGlyphs">0.65</text>
<text x="342.9" y="343.48" font-size="6.9" text-anchor="end" fill="#1e1e1e" stroke="#1e1e1e" stroke-width="0.22" textLength="14.24" lengthAdjust="spacingAndGlyphs">0.70</text>
<text x="342.9" y="320.33" font-size="6.9" text-anchor="end" fill="#1e1e1e" stroke="#1e1e1e" stroke-width="0.22" textLength="14.1" lengthAdjust="spacingAndGlyphs">0.75</text>
<text x="342.9" y="297.18" font-size="6.9" text-anchor="end" fill="#1e1e1e" stroke="#1e1e1e" stroke-width="0.22" textLength="14.24" lengthAdjust="spacingAndGlyphs">0.80</text>
<text x="342.9" y="274.03" font-size="6.9" text-anchor="end" fill="#1e1e1e" stroke="#1e1e1e" stroke-width="0.22" textLength="14.1" lengthAdjust="spacingAndGlyphs">0.85</text>
<text x="342.9" y="250.88" font-size="6.9" text-anchor="end" fill="#1e1e1e" stroke="#1e1e1e" stroke-width="0.22" textLength="14.24" lengthAdjust="spacingAndGlyphs">0.90</text>
<path d="M354.2 390.6v1.6 M376.59 390.6v1.6 M398.97 390.6v1.6 M421.36 390.6v1.6 M443.75 390.6v1.6 M466.14 390.6v1.6 M488.52 390.6v1.6 M510.91 390.6v1.6 M533.3 390.6v1.6 M345.4 387.3h-1.6 M345.4 364.15h-1.6 M345.4 341h-1.6 M345.4 317.85h-1.6 M345.4 294.7h-1.6 M345.4 271.55h-1.6 M345.4 248.4h-1.6" stroke="#c4c4c4" stroke-width="1.2"/>
<text x="443.8" y="225.41" font-size="6.15" text-anchor="middle" fill="#1e1e1e" stroke="#1e1e1e" stroke-width="0.06" textLength="56.4" lengthAdjust="spacingAndGlyphs">Point Removal Attack</text>
<text x="443.8" y="403.81" font-size="6.15" text-anchor="middle" fill="#1e1e1e" stroke="#1e1e1e" stroke-width="0.06" textLength="12.92" lengthAdjust="spacingAndGlyphs">Ratio</text>
<text x="0" y="0" font-size="6.4" text-anchor="middle" fill="#1e1e1e" stroke="#1e1e1e" stroke-width="0.06" textLength="48" lengthAdjust="spacingAndGlyphs" transform="translate(324.2 309) rotate(-90) translate(0 2.3)">Robustness Score</text>
<rect x="488.9" y="230.1" width="51.2" height="48.3" rx="1.2" fill="#fff" fill-opacity="0.8" stroke="#dadada" stroke-width="0.6"/>
<path d="M490.8 234.3H502.3" stroke="#1f77b4" stroke-width="1.15"/>
<circle cx="496.55" cy="234.3" r="1.75" fill="#1f77b4"/>
<text x="506.1" y="236.51" font-size="6.15" text-anchor="start" fill="#1e1e1e" stroke="#1e1e1e" stroke-width="0.06" textLength="25.3" lengthAdjust="spacingAndGlyphs">MinkUnet</text>
<path d="M490.8 242.1H502.3" stroke="#ff7f0e" stroke-width="1.15"/>
<polygon points="494.45,240.53 498.65,240.53 496.55,244.09" fill="#ff7f0e"/>
<text x="506.1" y="244.31" font-size="6.15" text-anchor="start" fill="#1e1e1e" stroke="#1e1e1e" stroke-width="0.06" textLength="29.8" lengthAdjust="spacingAndGlyphs">Cylinder3D</text>
<path d="M490.8 249.8H502.3" stroke="#2ca02c" stroke-width="1.15"/>
<rect x="494.66" y="247.91" width="3.78" height="3.78" fill="#2ca02c"/>
<text x="506.1" y="252.01" font-size="6.15" text-anchor="start" fill="#1e1e1e" stroke="#1e1e1e" stroke-width="0.06" textLength="22.64" lengthAdjust="spacingAndGlyphs">PolarNet</text>
<path d="M490.8 257.5H502.3" stroke="#d62728" stroke-width="1.15"/>
<path d="M495.78 255.47h1.54v1.26h1.26v1.54h-1.26v1.26h-1.54v-1.26h-1.26v-1.54z" fill="#d62728"/>
<text x="506.1" y="259.71" font-size="6.15" text-anchor="start" fill="#1e1e1e" stroke="#1e1e1e" stroke-width="0.06" textLength="22.65" lengthAdjust="spacingAndGlyphs">PointNet</text>
<path d="M490.8 265.4H502.3" stroke="#9467bd" stroke-width="1.09"/>
<circle cx="496.55" cy="265.4" r="1.19" fill="#9467bd"/>
<text x="506.1" y="267.61" font-size="6.15" text-anchor="start" fill="#1e1e1e" stroke="#1e1e1e" stroke-width="0.06" textLength="31.3" lengthAdjust="spacingAndGlyphs">PointNet++</text>
<path d="M490.8 273.1H502.3" stroke="#8c564b" stroke-width="1.15"/>
<circle cx="496.55" cy="273.1" r="1.82" fill="#8c564b"/>
<text x="506.1" y="275.31" font-size="6.15" text-anchor="start" fill="#1e1e1e" stroke="#1e1e1e" stroke-width="0.06" textLength="21.76" lengthAdjust="spacingAndGlyphs">SPVCNN</text>
<text x="432.4" y="423.06" font-size="10.2" font-family="Liberation Serif, serif" font-weight="bold" text-anchor="middle" fill="#1a1a1a" stroke="#1a1a1a" stroke-width="0.05">(d)</text>
<g clip-path="url(#clipe)">
<polyline points="35.2,448.93 80.73,466.4 126.25,473.73 171.78,479.92 217.3,487.25" fill="none" stroke="#1f77b4" stroke-width="1.15" stroke-linejoin="round"/>
<circle cx="35.2" cy="448.93" r="1.75" fill="#1f77b4"/>
<circle cx="80.73" cy="466.4" r="1.75" fill="#1f77b4"/>
<circle cx="126.25" cy="473.73" r="1.75" fill="#1f77b4"/>
<circle cx="171.78" cy="479.92" r="1.75" fill="#1f77b4"/>
<circle cx="217.3" cy="487.25" r="1.75" fill="#1f77b4"/>
<polyline points="35.2,489.51 80.73,531.78 126.25,559.39 171.78,579.68 217.3,594.9" fill="none" stroke="#ff7f0e" stroke-width="1.15" stroke-linejoin="round"/>
<polygon points="33.1,487.93 37.3,487.93 35.2,491.5" fill="#ff7f0e"/>
<polygon points="78.63,530.2 82.83,530.2 80.73,533.77" fill="#ff7f0e"/>
<polygon points="124.15,557.82 128.35,557.82 126.25,561.39" fill="#ff7f0e"/>
<polygon points="169.68,578.11 173.88,578.11 171.78,581.68" fill="#ff7f0e"/>
<polygon points="215.2,593.32 219.4,593.32 217.3,596.89" fill="#ff7f0e"/>
<polyline points="35.2,454.56 80.73,470.91 126.25,482.74 171.78,492.32 217.3,501.91" fill="none" stroke="#2ca02c" stroke-width="1.15" stroke-linejoin="round"/>
<rect x="33.31" y="452.67" width="3.78" height="3.78" fill="#2ca02c"/>
<rect x="78.84" y="469.02" width="3.78" height="3.78" fill="#2ca02c"/>
<rect x="124.36" y="480.85" width="3.78" height="3.78" fill="#2ca02c"/>
<rect x="169.89" y="490.43" width="3.78" height="3.78" fill="#2ca02c"/>
<rect x="215.41" y="500.02" width="3.78" height="3.78" fill="#2ca02c"/>
<polyline points="35.2,554.88 80.73,553.19 126.25,553.76 171.78,550.94 217.3,549.25" fill="none" stroke="#d62728" stroke-width="1.15" stroke-linejoin="round"/>
<path d="M34.43 552.85h1.54v1.26h1.26v1.54h-1.26v1.26h-1.54v-1.26h-1.26v-1.54z" fill="#d62728"/>
<path d="M79.96 551.16h1.54v1.26h1.26v1.54h-1.26v1.26h-1.54v-1.26h-1.26v-1.54z" fill="#d62728"/>
<path d="M125.48 551.73h1.54v1.26h1.26v1.54h-1.26v1.26h-1.54v-1.26h-1.26v-1.54z" fill="#d62728"/>
<path d="M171.01 548.91h1.54v1.26h1.26v1.54h-1.26v1.26h-1.54v-1.26h-1.26v-1.54z" fill="#d62728"/>
<path d="M216.53 547.22h1.54v1.26h1.26v1.54h-1.26v1.26h-1.54v-1.26h-1.26v-1.54z" fill="#d62728"/>
<polyline points="35.2,449.49 80.73,457.94 126.25,465.83 171.78,470.91 217.3,477.67" fill="none" stroke="#9467bd" stroke-width="1.09" stroke-linejoin="round"/>
<circle cx="35.2" cy="449.49" r="1.19" fill="#9467bd"/>
<circle cx="80.73" cy="457.94" r="1.19" fill="#9467bd"/>
<circle cx="126.25" cy="465.83" r="1.19" fill="#9467bd"/>
<circle cx="171.78" cy="470.91" r="1.19" fill="#9467bd"/>
<circle cx="217.3" cy="477.67" r="1.19" fill="#9467bd"/>
<polyline points="35.2,444.98 80.73,479.36 126.25,486.12 171.78,491.76 217.3,497.96" fill="none" stroke="#8c564b" stroke-width="1.15" stroke-linejoin="round"/>
<circle cx="35.2" cy="444.98" r="1.82" fill="#8c564b"/>
<circle cx="80.73" cy="479.36" r="1.82" fill="#8c564b"/>
<circle cx="126.25" cy="486.12" r="1.82" fill="#8c564b"/>
<circle cx="171.78" cy="491.76" r="1.82" fill="#8c564b"/>
<circle cx="217.3" cy="497.96" r="1.82" fill="#8c564b"/>
</g>
<rect x="26.6" y="437.6" width="199.7" height="165" fill="none" stroke="#c4c4c4" stroke-width="1.2"/>
<text x="35.2" y="609.83" font-size="6.9" text-anchor="middle" fill="#1e1e1e" stroke="#1e1e1e" stroke-width="0.22" textLength="14.06" lengthAdjust="spacingAndGlyphs">0.01</text>
<text x="57.96" y="609.83" font-size="6.9" text-anchor="middle" fill="#1e1e1e" stroke="#1e1e1e" stroke-width="0.22" textLength="14.01" lengthAdjust="spacingAndGlyphs">0.02</text>
<text x="80.73" y="609.83" font-size="6.9" text-anchor="middle" fill="#1e1e1e" stroke="#1e1e1e" stroke-width="0.22" textLength="14.15" lengthAdjust="spacingAndGlyphs">0.03</text>
<text x="103.49" y="609.83" font-size="6.9" text-anchor="middle" fill="#1e1e1e" stroke="#1e1e1e" stroke-width="0.22" textLength="14.31" lengthAdjust="spacingAndGlyphs">0.04</text>
<text x="126.25" y="609.83" font-size="6.9" text-anchor="middle" fill="#1e1e1e" stroke="#1e1e1e" stroke-width="0.22" textLength="14.1" lengthAdjust="spacingAndGlyphs">0.05</text>
<text x="149.01" y="609.83" font-size="6.9" text-anchor="middle" fill="#1e1e1e" stroke="#1e1e1e" stroke-width="0.22" textLength="14.26" lengthAdjust="spacingAndGlyphs">0.06</text>
<text x="171.78" y="609.83" font-size="6.9" text-anchor="middle" fill="#1e1e1e" stroke="#1e1e1e" stroke-width="0.22" textLength="14.11" lengthAdjust="spacingAndGlyphs">0.07</text>
<text x="194.54" y="609.83" font-size="6.9" text-anchor="middle" fill="#1e1e1e" stroke="#1e1e1e" stroke-width="0.22" textLength="14.23" lengthAdjust="spacingAndGlyphs">0.08</text>
<text x="217.3" y="609.83" font-size="6.9" text-anchor="middle" fill="#1e1e1e" stroke="#1e1e1e" stroke-width="0.22" textLength="14.21" lengthAdjust="spacingAndGlyphs">0.09</text>
<text x="24.1" y="584.98" font-size="6.9" text-anchor="end" fill="#1e1e1e" stroke="#1e1e1e" stroke-width="0.22" textLength="14.1" lengthAdjust="spacingAndGlyphs">0.75</text>
<text x="24.1" y="556.8" font-size="6.9" text-anchor="end" fill="#1e1e1e" stroke="#1e1e1e" stroke-width="0.22" textLength="14.24" lengthAdjust="spacingAndGlyphs">0.80</text>
<text x="24.1" y="528.62" font-size="6.9" text-anchor="end" fill="#1e1e1e" stroke="#1e1e1e" stroke-width="0.22" textLength="14.1" lengthAdjust="spacingAndGlyphs">0.85</text>
<text x="24.1" y="500.44" font-size="6.9" text-anchor="end" fill="#1e1e1e" stroke="#1e1e1e" stroke-width="0.22" textLength="14.24" lengthAdjust="spacingAndGlyphs">0.90</text>
<text x="24.1" y="472.26" font-size="6.9" text-anchor="end" fill="#1e1e1e" stroke="#1e1e1e" stroke-width="0.22" textLength="14.1" lengthAdjust="spacingAndGlyphs">0.95</text>
<text x="24.1" y="444.08" font-size="6.9" text-anchor="end" fill="#1e1e1e" stroke="#1e1e1e" stroke-width="0.22" textLength="13.94" lengthAdjust="spacingAndGlyphs">1.00</text>
<path d="M35.2 602.6v1.6 M57.96 602.6v1.6 M80.73 602.6v1.6 M103.49 602.6v1.6 M126.25 602.6v1.6 M149.01 602.6v1.6 M171.78 602.6v1.6 M194.54 602.6v1.6 M217.3 602.6v1.6 M26.6 582.5h-1.6 M26.6 554.32h-1.6 M26.6 526.14h-1.6 M26.6 497.96h-1.6 M26.6 469.78h-1.6 M26.6 441.6h-1.6" stroke="#c4c4c4" stroke-width="1.2"/>
<text x="126.1" y="436.01" font-size="6.15" text-anchor="middle" fill="#1e1e1e" stroke="#1e1e1e" stroke-width="0.06" textLength="98.4" lengthAdjust="spacingAndGlyphs">Point Injection Attack : Varying Ratio</text>
<text x="126.1" y="616.71" font-size="6.15" text-anchor="middle" fill="#1e1e1e" stroke="#1e1e1e" stroke-width="0.06" textLength="12.92" lengthAdjust="spacingAndGlyphs">Ratio</text>
<text x="0" y="0" font-size="6.4" text-anchor="middle" fill="#1e1e1e" stroke="#1e1e1e" stroke-width="0.06" textLength="48" lengthAdjust="spacingAndGlyphs" transform="translate(5.2 520.4) rotate(-90) translate(0 2.3)">Robustness Score</text>
<rect x="29.2" y="495.7" width="50.4" height="48.6" rx="1.2" fill="#fff" fill-opacity="0.8" stroke="#dadada" stroke-width="0.6"/>
<path d="M30.9 500.5H42.5" stroke="#1f77b4" stroke-width="1.15"/>
<circle cx="36.7" cy="500.5" r="1.75" fill="#1f77b4"/>
<text x="46.8" y="502.71" font-size="6.15" text-anchor="start" fill="#1e1e1e" stroke="#1e1e1e" stroke-width="0.06" textLength="25.3" lengthAdjust="spacingAndGlyphs">MinkUnet</text>
<path d="M30.9 508.2H42.5" stroke="#ff7f0e" stroke-width="1.15"/>
<polygon points="34.6,506.62 38.8,506.62 36.7,510.19" fill="#ff7f0e"/>
<text x="46.8" y="510.41" font-size="6.15" text-anchor="start" fill="#1e1e1e" stroke="#1e1e1e" stroke-width="0.06" textLength="29.8" lengthAdjust="spacingAndGlyphs">Cylinder3D</text>
<path d="M30.9 516H42.5" stroke="#2ca02c" stroke-width="1.15"/>
<rect x="34.81" y="514.11" width="3.78" height="3.78" fill="#2ca02c"/>
<text x="46.8" y="518.21" font-size="6.15" text-anchor="start" fill="#1e1e1e" stroke="#1e1e1e" stroke-width="0.06" textLength="22.64" lengthAdjust="spacingAndGlyphs">PolarNet</text>
<path d="M30.9 523.7H42.5" stroke="#d62728" stroke-width="1.15"/>
<path d="M35.93 521.67h1.54v1.26h1.26v1.54h-1.26v1.26h-1.54v-1.26h-1.26v-1.54z" fill="#d62728"/>
<text x="46.8" y="525.91" font-size="6.15" text-anchor="start" fill="#1e1e1e" stroke="#1e1e1e" stroke-width="0.06" textLength="22.65" lengthAdjust="spacingAndGlyphs">PointNet</text>
<path d="M30.9 531.5H42.5" stroke="#9467bd" stroke-width="1.09"/>
<circle cx="36.7" cy="531.5" r="1.19" fill="#9467bd"/>
<text x="46.8" y="533.71" font-size="6.15" text-anchor="start" fill="#1e1e1e" stroke="#1e1e1e" stroke-width="0.06" textLength="31.3" lengthAdjust="spacingAndGlyphs">PointNet++</text>
<path d="M30.9 539.3H42.5" stroke="#8c564b" stroke-width="1.15"/>
<circle cx="36.7" cy="539.3" r="1.82" fill="#8c564b"/>
<text x="46.8" y="541.51" font-size="6.15" text-anchor="start" fill="#1e1e1e" stroke="#1e1e1e" stroke-width="0.06" textLength="21.76" lengthAdjust="spacingAndGlyphs">SPVCNN</text>
<text x="114.6" y="636.86" font-size="10.2" font-family="Liberation Serif, serif" font-weight="bold" text-anchor="middle" fill="#1a1a1a" stroke="#1a1a1a" stroke-width="0.05">(e)</text>
<g clip-path="url(#clipf)">
<polyline points="349.3,445.78 395.75,451.3 442.2,453.62 488.65,450.43 535.1,446.94" fill="none" stroke="#1f77b4" stroke-width="1.15" stroke-linejoin="round"/>
<circle cx="349.3" cy="445.78" r="1.75" fill="#1f77b4"/>
<circle cx="395.75" cy="451.3" r="1.75" fill="#1f77b4"/>
<circle cx="442.2" cy="453.62" r="1.75" fill="#1f77b4"/>
<circle cx="488.65" cy="450.43" r="1.75" fill="#1f77b4"/>
<circle cx="535.1" cy="446.94" r="1.75" fill="#1f77b4"/>
<polyline points="349.3,501.54 395.75,521.58 442.2,531.74 488.65,536.68 535.1,541.03" fill="none" stroke="#ff7f0e" stroke-width="1.15" stroke-linejoin="round"/>
<polygon points="347.2,499.96 351.4,499.96 349.3,503.53" fill="#ff7f0e"/>
<polygon points="393.65,520 397.85,520 395.75,523.57" fill="#ff7f0e"/>
<polygon points="440.1,530.17 444.3,530.17 442.2,533.74" fill="#ff7f0e"/>
<polygon points="486.55,535.1 490.75,535.1 488.65,538.67" fill="#ff7f0e"/>
<polygon points="533,539.46 537.2,539.46 535.1,543.03" fill="#ff7f0e"/>
<polyline points="349.3,453.91 395.75,474.24 442.2,491.08 488.65,502.12 535.1,507.35" fill="none" stroke="#2ca02c" stroke-width="1.15" stroke-linejoin="round"/>
<rect x="347.41" y="452.02" width="3.78" height="3.78" fill="#2ca02c"/>
<rect x="393.86" y="472.35" width="3.78" height="3.78" fill="#2ca02c"/>
<rect x="440.31" y="489.19" width="3.78" height="3.78" fill="#2ca02c"/>
<rect x="486.76" y="500.23" width="3.78" height="3.78" fill="#2ca02c"/>
<rect x="533.21" y="505.46" width="3.78" height="3.78" fill="#2ca02c"/>
<polyline points="349.3,476.27 395.75,541.32 442.2,579.37 488.65,587.79 535.1,595.05" fill="none" stroke="#d62728" stroke-width="1.15" stroke-linejoin="round"/>
<path d="M348.53 474.24h1.54v1.26h1.26v1.54h-1.26v1.26h-1.54v-1.26h-1.26v-1.54z" fill="#d62728"/>
<path d="M394.98 539.29h1.54v1.26h1.26v1.54h-1.26v1.26h-1.54v-1.26h-1.26v-1.54z" fill="#d62728"/>
<path d="M441.43 577.34h1.54v1.26h1.26v1.54h-1.26v1.26h-1.54v-1.26h-1.26v-1.54z" fill="#d62728"/>
<path d="M487.88 585.76h1.54v1.26h1.26v1.54h-1.26v1.26h-1.54v-1.26h-1.26v-1.54z" fill="#d62728"/>
<path d="M534.33 593.02h1.54v1.26h1.26v1.54h-1.26v1.26h-1.54v-1.26h-1.26v-1.54z" fill="#d62728"/>
<polyline points="349.3,441.43 395.75,455.95 442.2,460.01 488.65,469.89 535.1,478.89" fill="none" stroke="#9467bd" stroke-width="1.09" stroke-linejoin="round"/>
<circle cx="349.3" cy="441.43" r="1.19" fill="#9467bd"/>
<circle cx="395.75" cy="455.95" r="1.19" fill="#9467bd"/>
<circle cx="442.2" cy="460.01" r="1.19" fill="#9467bd"/>
<circle cx="488.65" cy="469.89" r="1.19" fill="#9467bd"/>
<circle cx="535.1" cy="478.89" r="1.19" fill="#9467bd"/>
<polyline points="349.3,451.88 395.75,460.01 442.2,459.43 488.65,456.53 535.1,451.88" fill="none" stroke="#8c564b" stroke-width="1.15" stroke-linejoin="round"/>
<circle cx="349.3" cy="451.88" r="1.82" fill="#8c564b"/>
<circle cx="395.75" cy="460.01" r="1.82" fill="#8c564b"/>
<circle cx="442.2" cy="459.43" r="1.82" fill="#8c564b"/>
<circle cx="488.65" cy="456.53" r="1.82" fill="#8c564b"/>
<circle cx="535.1" cy="451.88" r="1.82" fill="#8c564b"/>
</g>
<rect x="340.1" y="433.7" width="204.4" height="169.1" fill="none" stroke="#c4c4c4" stroke-width="1.2"/>
<text x="349.3" y="610.03" font-size="6.9" text-anchor="middle" fill="#1e1e1e" stroke="#1e1e1e" stroke-width="0.22" textLength="9.74" lengthAdjust="spacingAndGlyphs">0.1</text>
<text x="372.53" y="610.03" font-size="6.9" text-anchor="middle" fill="#1e1e1e" stroke="#1e1e1e" stroke-width="0.22" textLength="9.68" lengthAdjust="spacingAndGlyphs">0.2</text>
<text x="395.75" y="610.03" font-size="6.9" text-anchor="middle" fill="#1e1e1e" stroke="#1e1e1e" stroke-width="0.22" textLength="9.82" lengthAdjust="spacingAndGlyphs">0.3</text>
<text x="418.98" y="610.03" font-size="6.9" text-anchor="middle" fill="#1e1e1e" stroke="#1e1e1e" stroke-width="0.22" textLength="9.98" lengthAdjust="spacingAndGlyphs">0.4</text>
<text x="442.2" y="610.03" font-size="6.9" text-anchor="middle" fill="#1e1e1e" stroke="#1e1e1e" stroke-width="0.22" textLength="9.77" lengthAdjust="spacingAndGlyphs">0.5</text>
<text x="465.43" y="610.03" font-size="6.9" text-anchor="middle" fill="#1e1e1e" stroke="#1e1e1e" stroke-width="0.22" textLength="9.94" lengthAdjust="spacingAndGlyphs">0.6</text>
<text x="488.65" y="610.03" font-size="6.9" text-anchor="middle" fill="#1e1e1e" stroke="#1e1e1e" stroke-width="0.22" textLength="9.78" lengthAdjust="spacingAndGlyphs">0.7</text>
<text x="511.88" y="610.03" font-size="6.9" text-anchor="middle" fill="#1e1e1e" stroke="#1e1e1e" stroke-width="0.22" textLength="9.9" lengthAdjust="spacingAndGlyphs">0.8</text>
<text x="535.1" y="610.03" font-size="6.9" text-anchor="middle" fill="#1e1e1e" stroke="#1e1e1e" stroke-width="0.22" textLength="9.89" lengthAdjust="spacingAndGlyphs">0.9</text>
<text x="337.6" y="598.98" font-size="6.9" text-anchor="end" fill="#1e1e1e" stroke="#1e1e1e" stroke-width="0.22" textLength="9.98" lengthAdjust="spacingAndGlyphs">0.4</text>
<text x="337.6" y="569.94" font-size="6.9" text-anchor="end" fill="#1e1e1e" stroke="#1e1e1e" stroke-width="0.22" textLength="9.77" lengthAdjust="spacingAndGlyphs">0.5</text>
<text x="337.6" y="540.9" font-size="6.9" text-anchor="end" fill="#1e1e1e" stroke="#1e1e1e" stroke-width="0.22" textLength="9.94" lengthAdjust="spacingAndGlyphs">0.6</text>
<text x="337.6" y="511.86" font-size="6.9" text-anchor="end" fill="#1e1e1e" stroke="#1e1e1e" stroke-width="0.22" textLength="9.78" lengthAdjust="spacingAndGlyphs">0.7</text>
<text x="337.6" y="482.82" font-size="6.9" text-anchor="end" fill="#1e1e1e" stroke="#1e1e1e" stroke-width="0.22" textLength="9.9" lengthAdjust="spacingAndGlyphs">0.8</text>
<text x="337.6" y="453.78" font-size="6.9" text-anchor="end" fill="#1e1e1e" stroke="#1e1e1e" stroke-width="0.22" textLength="9.89" lengthAdjust="spacingAndGlyphs">0.9</text>
<path d="M349.3 602.8v1.6 M372.53 602.8v1.6 M395.75 602.8v1.6 M418.98 602.8v1.6 M442.2 602.8v1.6 M465.43 602.8v1.6 M488.65 602.8v1.6 M511.88 602.8v1.6 M535.1 602.8v1.6 M340.1 596.5h-1.6 M340.1 567.46h-1.6 M340.1 538.42h-1.6 M340.1 509.38h-1.6 M340.1 480.34h-1.6 M340.1 451.3h-1.6" stroke="#c4c4c4" stroke-width="1.2"/>
<text x="441.9" y="431.81" font-size="6.15" text-anchor="middle" fill="#1e1e1e" stroke="#1e1e1e" stroke-width="0.06" textLength="136.2" lengthAdjust="spacingAndGlyphs">Point Injection Attack : Varying Shifting Distances</text>
<text x="441.8" y="616.81" font-size="6.15" text-anchor="middle" fill="#1e1e1e" stroke="#1e1e1e" stroke-width="0.06" textLength="12.92" lengthAdjust="spacingAndGlyphs">Ratio</text>
<text x="0" y="0" font-size="6.4" text-anchor="middle" fill="#1e1e1e" stroke="#1e1e1e" stroke-width="0.06" textLength="48" lengthAdjust="spacingAndGlyphs" transform="translate(322.7 518.3) rotate(-90) translate(0 2.3)">Robustness Score</text>
<rect x="343.3" y="550.1" width="51.3" height="49.1" rx="1.2" fill="#fff" fill-opacity="0.8" stroke="#dadada" stroke-width="0.6"/>
<path d="M344.9 554.7H356.4" stroke="#1f77b4" stroke-width="1.15"/>
<circle cx="350.65" cy="554.7" r="1.75" fill="#1f77b4"/>
<text x="359.9" y="556.91" font-size="6.15" text-anchor="start" fill="#1e1e1e" stroke="#1e1e1e" stroke-width="0.06" textLength="25.3" lengthAdjust="spacingAndGlyphs">MinkUnet</text>
<path d="M344.9 562.8H356.4" stroke="#ff7f0e" stroke-width="1.15"/>
<polygon points="348.55,561.22 352.75,561.22 350.65,564.79" fill="#ff7f0e"/>
<text x="359.9" y="565.01" font-size="6.15" text-anchor="start" fill="#1e1e1e" stroke="#1e1e1e" stroke-width="0.06" textLength="29.8" lengthAdjust="spacingAndGlyphs">Cylinder3D</text>
<path d="M344.9 570.9H356.4" stroke="#2ca02c" stroke-width="1.15"/>
<rect x="348.76" y="569.01" width="3.78" height="3.78" fill="#2ca02c"/>
<text x="359.9" y="573.11" font-size="6.15" text-anchor="start" fill="#1e1e1e" stroke="#1e1e1e" stroke-width="0.06" textLength="22.64" lengthAdjust="spacingAndGlyphs">PolarNet</text>
<path d="M344.9 578.9H356.4" stroke="#d62728" stroke-width="1.15"/>
<path d="M349.88 576.87h1.54v1.26h1.26v1.54h-1.26v1.26h-1.54v-1.26h-1.26v-1.54z" fill="#d62728"/>
<text x="359.9" y="581.11" font-size="6.15" text-anchor="start" fill="#1e1e1e" stroke="#1e1e1e" stroke-width="0.06" textLength="22.65" lengthAdjust="spacingAndGlyphs">PointNet</text>
<path d="M344.9 586.8H356.4" stroke="#9467bd" stroke-width="1.09"/>
<circle cx="350.65" cy="586.8" r="1.19" fill="#9467bd"/>
<text x="359.9" y="589.01" font-size="6.15" text-anchor="start" fill="#1e1e1e" stroke="#1e1e1e" stroke-width="0.06" textLength="31.3" lengthAdjust="spacingAndGlyphs">PointNet++</text>
<path d="M344.9 594.7H356.4" stroke="#8c564b" stroke-width="1.15"/>
<circle cx="350.65" cy="594.7" r="1.82" fill="#8c564b"/>
<text x="359.9" y="596.91" font-size="6.15" text-anchor="start" fill="#1e1e1e" stroke="#1e1e1e" stroke-width="0.06" textLength="21.76" lengthAdjust="spacingAndGlyphs">SPVCNN</text>
<text x="432.6" y="636.96" font-size="10.2" font-family="Liberation Serif, serif" font-weight="bold" text-anchor="middle" fill="#1a1a1a" stroke="#1a1a1a" stroke-width="0.05">(f)</text>
</svg>
</body></html>
